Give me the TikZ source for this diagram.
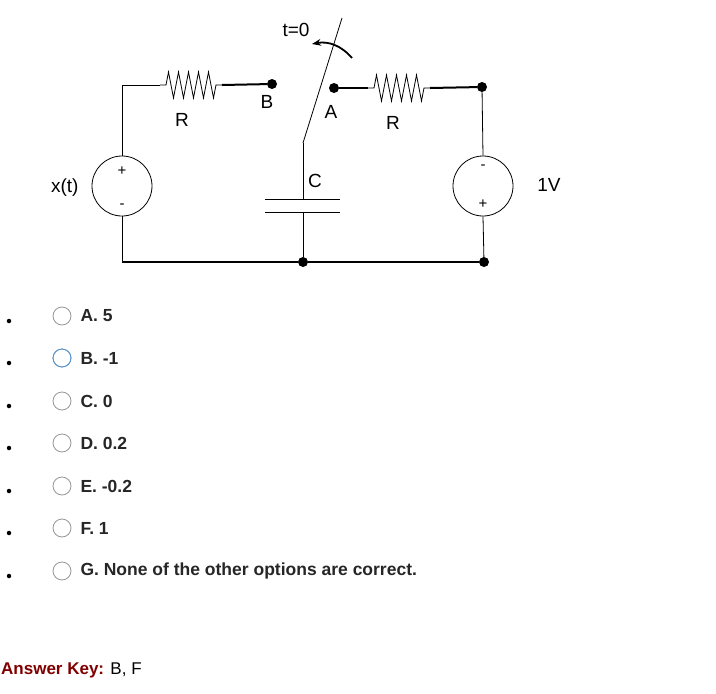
\documentclass[tikz,border=0pt]{standalone}
\usepackage{fontspec}
\setmainfont{Liberation Sans}
\usetikzlibrary{decorations.pathmorphing,arrows.meta}
\definecolor{ans}{RGB}{128,0,0}
\definecolor{rad}{RGB}{150,150,150}
\definecolor{radb}{RGB}{80,150,220}
\begin{document}
\begin{tikzpicture}[x=1pt,y=-1pt,
  w/.style={line width=0.8pt},
  tw/.style={line width=2pt},
  dot/.style={circle,fill=black,inner sep=0pt,minimum size=10pt},
  lbl/.style={font=\fontsize{19}{19}\selectfont},
  sg/.style={font=\fontsize{15}{15}\selectfont},
  res/.style={w,decorate,decoration={zigzag,segment length=10pt,amplitude=13pt,pre length=6pt,post length=6pt}},
  src/.style={circle,draw,w,minimum size=60pt,inner sep=0pt},
  radio/.style={circle,draw=rad,line width=0.8pt,minimum size=18pt,inner sep=0pt},
  bul/.style={circle,fill=black,inner sep=0pt,minimum size=4.5pt},
  opt/.style={anchor=west,font=\fontsize{17.5}{17.5}\selectfont\bfseries,text=black!85}]
\useasboundingbox (0,0) rectangle (716,694);
% circuit nodes
\node[src] (xs) at (122,186) {};
\node[sg] at (122,171) {+};
\node[sg] at (122,206) {-};
\node[lbl,anchor=east] (xl) at (82,188) {x(t)};
\node[src] (vs) at (483,186) {};
\node[sg] at (483,167) {-};
\node[sg] at (483,204) {+};
\node[lbl] (vl) at (549,185) {1V};
\coordinate (tl) at (122,85);
\coordinate (r1a) at (160,85);
\coordinate (r1b) at (222,85);
\node[dot] (B) at (272,84) {};
\node[lbl] at (267,102) {B};
\node[lbl] at (182,120) {R};
\node[dot] (A) at (334,88) {};
\node[lbl] at (331,112) {A};
\coordinate (r2a) at (368,88);
\coordinate (r2b) at (430,88);
\node[lbl] at (393,123) {R};
\node[dot] (rt) at (482,87) {};
\coordinate (sw0) at (303,143);
\coordinate (sw1) at (342,18);
\node[lbl] at (296,30) {t=0};
\coordinate (cp1) at (303,199);
\coordinate (cp2) at (303,212);
\node[lbl] at (315,181) {C};
\node[dot] (bm) at (303,262) {};
\node[dot] (br) at (484,262) {};
\coordinate (bl) at (122,262);
% wires
\draw[w] (xs.north) -- (tl) -- (r1a);
\draw[res] (r1a) -- (r1b);
\draw[tw] (r1b) -- (B);
\draw[tw] (A) -- (r2a);
\draw[res] (r2a) -- (r2b);
\draw[tw] (r2b) -- (rt);
\draw[w] (rt) -- (vs.north);
\draw[w] (vs.south) -- (br);
\draw[w] (xs.south) -- (bl);
\draw[tw] (bl) -- (bm) -- (br);
\draw[w] (sw0) -- (sw1);
\draw[w] (sw0) -- (cp1);
\draw[w] (cp2) -- (bm);
\draw[w] (265,199) -- (340,199);
\draw[w] (265,212) -- (340,212);
\draw[line width=1.8pt,-{Stealth[length=9pt]}] (352,58) to[bend right=30] (312,44);
% options
\foreach \y/\t [count=\i] in {316/A. 5,358/B. -1,401/C. 0,443/D. 0.2,486/E. -0.2,528/F. 1,571/G. None of the other options are correct.}{
  \node[bul] (b\i) at (9,\y+5) {};
  \node[radio] (r\i) at (62,\y) {};
  \node[opt] (o\i) at (77,\y) {\t};
}
\draw[radb,line width=0.8pt] (r2) circle (9pt);
\node[anchor=west,font=\fontsize{17}{17}\selectfont,inner sep=1pt] (ak) at (0,670) {\textcolor{ans}{\bfseries Answer Key:} B, F};
\end{tikzpicture}
\end{document}
